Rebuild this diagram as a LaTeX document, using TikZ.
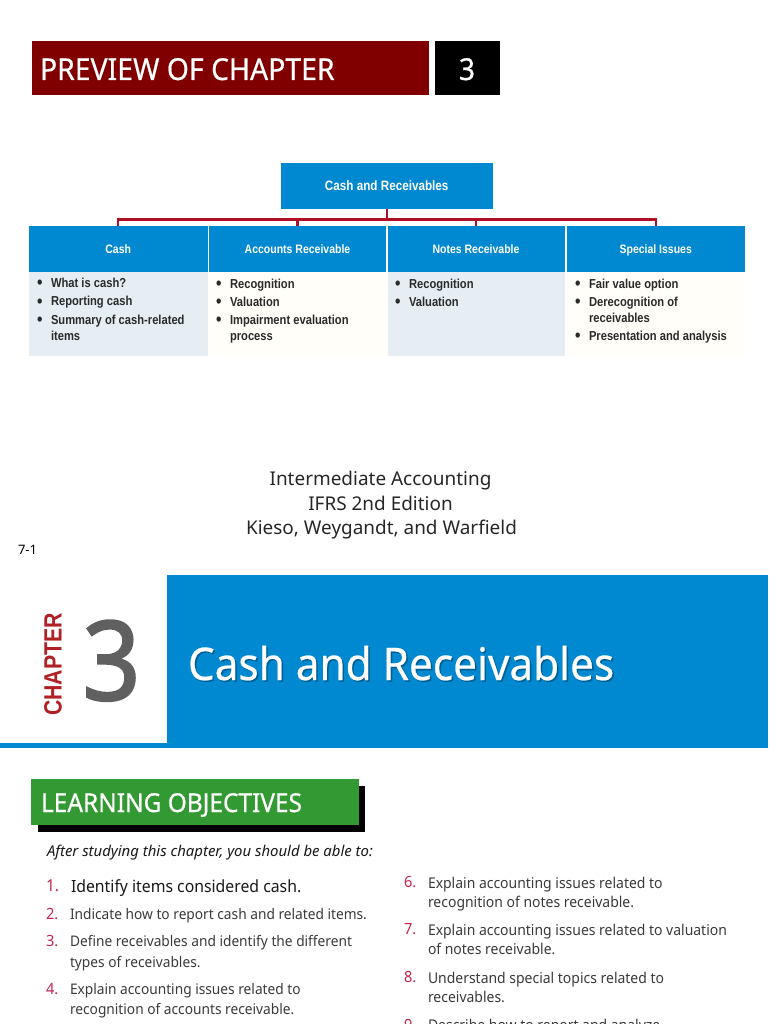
\documentclass[tikz,border=0pt]{standalone}
\usepackage{fontspec}
\usetikzlibrary{calc}
\setmainfont[FakeStretch=0.94]{Noto Sans}
\newfontfamily\widef{Noto Sans}
\newfontfamily\heavyf[FakeStretch=0.94,FakeBold=0.5]{Noto Sans}
\newfontfamily\bigf[FakeBold=2,FakeStretch=0.92]{Noto Sans}
\newfontfamily\narrowb[FakeStretch=0.86]{Liberation Sans}
\newfontfamily\chapf[FakeStretch=0.85]{Liberation Sans}
\definecolor{hdrblue}{HTML}{0088D0}
\definecolor{maroonbar}{HTML}{800000}
\definecolor{greenbar}{HTML}{339933}
\definecolor{railred}{HTML}{B01025}
\definecolor{bodyblue}{HTML}{E6EEF3}
\definecolor{bodycream}{HTML}{FFFEF8}
\definecolor{numred}{HTML}{C8244C}
\definecolor{txtgrey}{HTML}{3A3A3A}
\definecolor{bulletdark}{HTML}{2A2A2A}
\definecolor{threegrey}{HTML}{606060}
\definecolor{chapred}{HTML}{B02025}
\newcommand{\px}[1]{\fontsize{#1}{#1}\selectfont}
\tikzset{
  rect/.style={inner sep=0pt,outer sep=0pt,draw=none,anchor=north west},
  hdr/.style={rect,fill=hdrblue,text=white,align=center,text height=11pt,text depth=2.5pt,font=\narrowb\bfseries\px{12.2}},
  lbl/.style={inner sep=0pt,outer sep=0pt,anchor=base west},
  bullet/.style={lbl,font=\narrowb\bfseries\px{13},text=bulletdark},
  bulletdot/.style={lbl,font=\narrowb\bfseries\px{18},text=bulletdark},
  objnum/.style={lbl,font=\px{15.5},text=numred},
  objtxt/.style={lbl,font=\px{14.6},text=txtgrey},
  objtxtr/.style={lbl,font=\px{14.85},text=txtgrey},
  ctr/.style={inner sep=0pt,outer sep=0pt,anchor=base,font=\widef\px{18.95},text=black!85},
  rail/.style={draw=railred,line width=2.2pt}
}
\begin{document}
\begin{tikzpicture}[x=1pt,y=-1pt]
\useasboundingbox (0,0) rectangle (768,1024);
% top bars
\node[rect,fill=maroonbar,minimum width=397pt,minimum height=54pt] (bar) at (32,41.5) {};
\node[rect,fill=black,minimum width=64.5pt,minimum height=54pt] (barn) at (435,41.5) {};
\node[lbl,text=white,font=\heavyf\px{30.2}] (bart) at (40,80) {PREVIEW OF CHAPTER};
\node[inner sep=0pt,anchor=base,text=white,font=\heavyf\px{30.2}] (barnt) at (467,80) {3};
% body panels
\node[rect,fill=bodyblue,minimum width=178.5pt,minimum height=84pt] (b1) at (29,272) {};
\node[rect,fill=bodycream,minimum width=177pt,minimum height=84pt] (b2) at (209,272) {};
\node[rect,fill=bodyblue,minimum width=177pt,minimum height=84pt] (b3) at (387.5,272) {};
\node[rect,fill=bodycream,minimum width=178.5pt,minimum height=84pt] (b4) at (566.5,272) {};
% headers
\node[hdr,font=\narrowb\bfseries\px{13.6},text height=12pt,minimum width=211.5pt,minimum height=45.5pt] (root) at (281,163.5) {Cash and Receivables};
\node[hdr,minimum width=178.5pt,minimum height=46pt] (h1) at (29,226) {Cash};
\node[hdr,minimum width=177pt,minimum height=46pt] (h2) at (209,226) {Accounts Receivable};
\node[hdr,minimum width=177pt,minimum height=46pt] (h3) at (387.5,226) {Notes Receivable};
\node[hdr,minimum width=178.5pt,minimum height=46pt] (h4) at (566.5,226) {Special Issues};
% connectors
\coordinate (railmid) at ($(root.south)+(0,10.5)$);
\draw[rail] (root.south) -- (railmid);
\draw[rail] (h1.north) |- (railmid);
\draw[rail] (h4.north) |- (railmid);
\draw[rail] (h2.north) -- (h2.north |- railmid);
\draw[rail] (h3.north) -- (h3.north |- railmid);
% bullets
\foreach \nm/\x/\y in {c1/37/287, c2/37/305.5, c3/37/324, d1/216/288, d2/216/306, d3/216/324, e1/395/288, e2/395/306, f1/575/288, f2/575/306, f3/575/340}{
  \node[bulletdot] (\nm) at (\x,\y+1.8) {•};
}
\node[bullet] (c1t) at (51,287) {What is cash?};
\node[bullet] (c2t) at (51,305.5) {Reporting cash};
\node[bullet] (c3t) at (51,324) {Summary of cash-related};
\node[bullet] (c4t) at (51,340) {items};
\node[bullet] (d1t) at (230,288) {Recognition};
\node[bullet] (d2t) at (230,306) {Valuation};
\node[bullet] (d3t) at (230,324) {Impairment evaluation};
\node[bullet] (d4t) at (230,340) {process};
\node[bullet] (e1t) at (409,288) {Recognition};
\node[bullet] (e2t) at (409,306) {Valuation};
\node[bullet] (f1t) at (589,288) {Fair value option};
\node[bullet] (f2t) at (589,306) {Derecognition of};
\node[bullet] (f3t) at (589,322) {receivables};
\node[bullet] (f4t) at (589,340) {Presentation and analysis};
% centre credit
\node[ctr] (l1) at (380.5,485) {Intermediate Accounting};
\node[ctr] (l2) at (380.5,510) {IFRS 2nd Edition};
\node[ctr] (l3) at (381.5,534) {Kieso, Weygandt, and Warfield};
\node[lbl,font=\widef\px{13},text=black] (pg) at (18,554) {7-1};
% chapter banner
\node[rect,fill=hdrblue,minimum width=601pt,minimum height=173pt] (ban) at (167,575) {};
\node[rect,fill=hdrblue,minimum width=167pt,minimum height=5pt] (strip) at (0,743) {};
\node[inner sep=0pt,anchor=base,rotate=90,text=chapred,font=\chapf\bfseries\px{25}] (chap) at (61.7,664.5) {CHAPTER};
\node[inner sep=0pt,anchor=base,text=threegrey,font=\bigf\px{110}] (big3) at (111.5,700) {3};
\node[lbl,text=black!30!hdrblue,font=\heavyf\px{45}] (tshadow) at (189.5,681.5) {Cash and Receivables};
\node[lbl,text=white,font=\heavyf\px{45}] (title) at (188,680) {Cash and Receivables};
% learning objectives
\node[rect,fill=black,minimum width=327pt,minimum height=46pt] (losh) at (38,785.5) {};
\node[rect,fill=greenbar,minimum width=328pt,minimum height=46pt] (lo) at (31,779) {};
\node[lbl,text=white,font=\heavyf\px{26}] (lot) at (41,812) {LEARNING OBJECTIVES};
\node[lbl,text=black!90,font=\widef\itshape\px{14.9}] (after) at (47,856) {After studying this chapter, you should be able to:};
% objectives left
\node[objnum,font=\px{16.5}] (n1) at (46,891) {1.};
\node[lbl,text=black!90,font=\px{16.8}] (o1) at (71,892) {Identify items considered cash.};
\node[objnum] (n2) at (46,919) {2.};
\node[objtxt] (o2) at (70,919) {Indicate how to report cash and related items.};
\node[objnum] (n3) at (46,946) {3.};
\node[objtxt] (o3) at (70,946) {Define receivables and identify the different};
\node[objtxt] (o3b) at (70,967) {types of receivables.};
\node[objnum] (n4) at (46,994) {4.};
\node[objtxt] (o4) at (70,994) {Explain accounting issues related to};
\node[objtxt] (o4b) at (70,1014) {recognition of accounts receivable.};
% objectives right
\node[objnum] (n6) at (404,887) {6.};
\node[objtxtr] (o6) at (428,888) {Explain accounting issues related to};
\node[objtxtr] (o6b) at (428,907) {recognition of notes receivable.};
\node[objnum] (n7) at (404,934) {7.};
\node[objtxtr] (o7) at (428,935) {Explain accounting issues related to valuation};
\node[objtxtr] (o7b) at (428,954) {of notes receivable.};
\node[objnum] (n8) at (404,982) {8.};
\node[objtxtr] (o8) at (428,983) {Understand special topics related to};
\node[objtxtr] (o8b) at (428,1002) {receivables.};
\node[objnum] (n9) at (404,1030) {9.};
\node[objtxtr] (o9) at (428,1030.5) {Describe how to report and analyze};
\end{tikzpicture}
\end{document}
